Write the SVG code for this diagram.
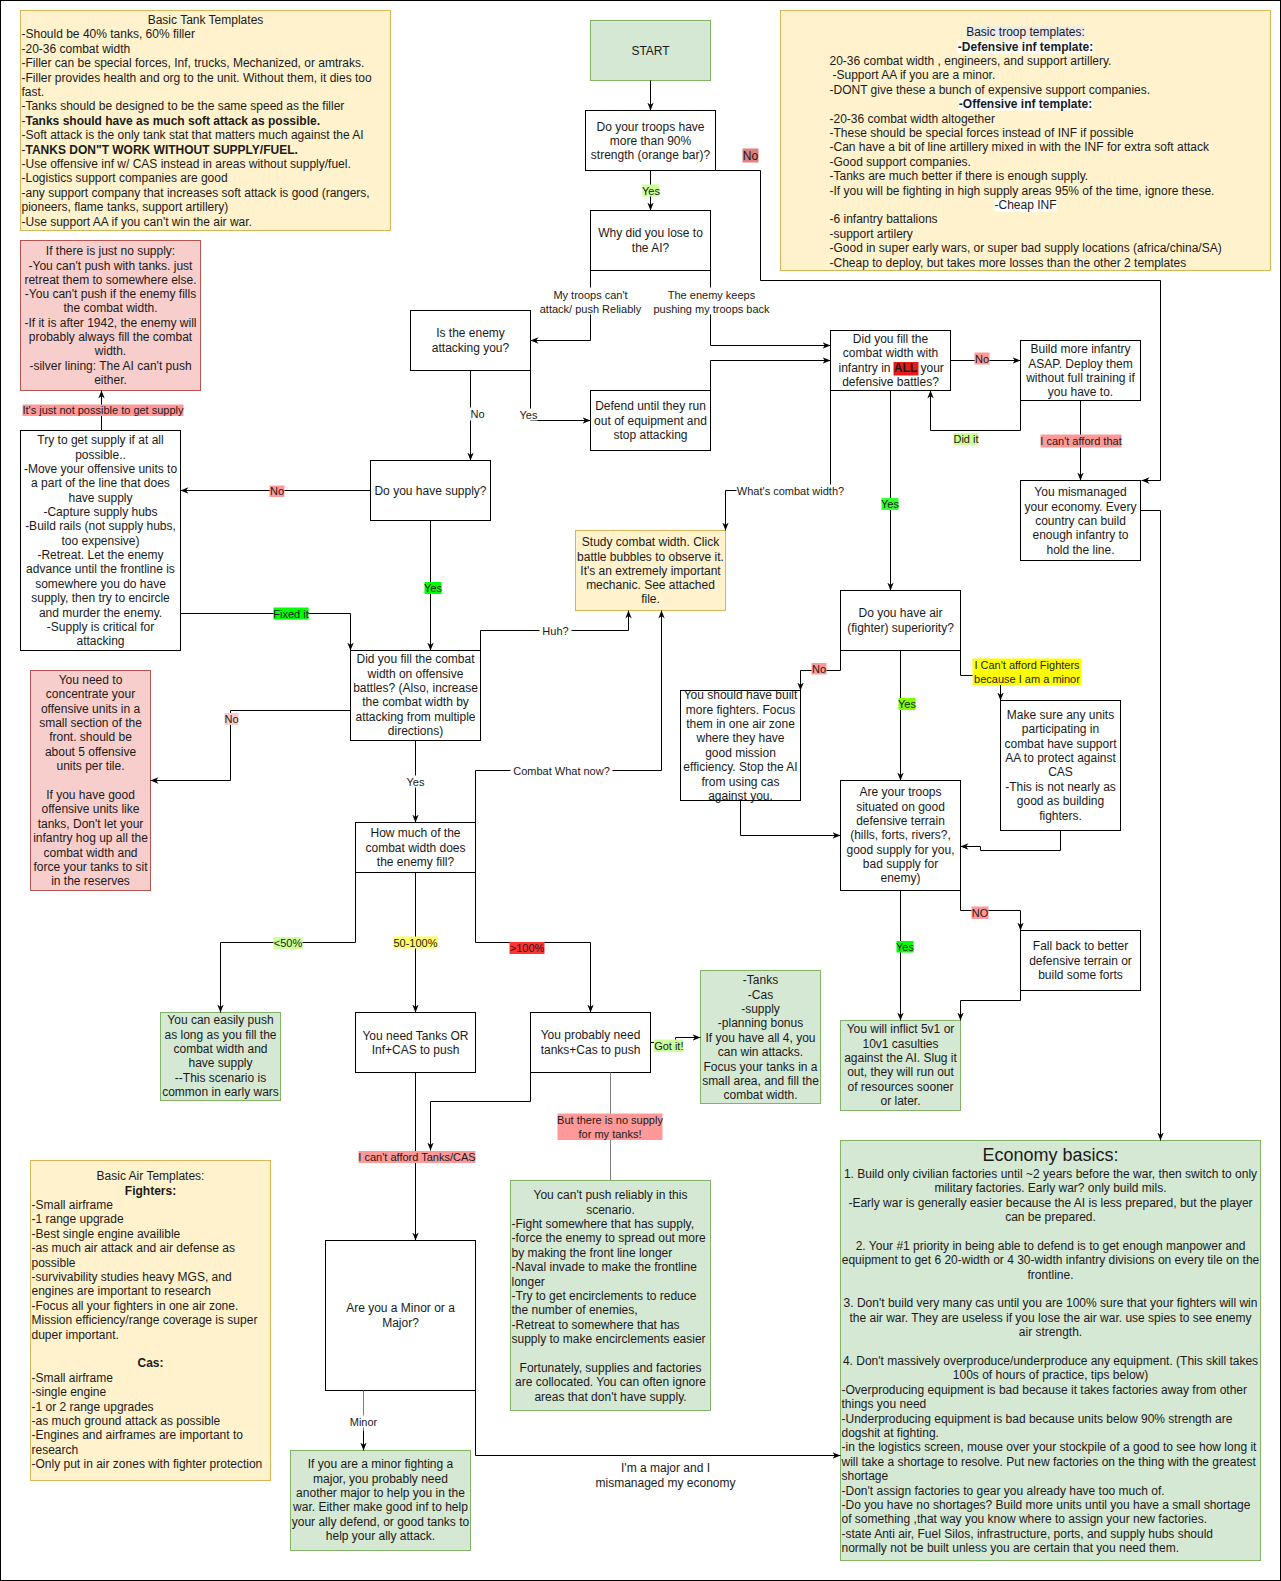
<svg xmlns="http://www.w3.org/2000/svg" width="1281" height="1581" viewBox="0 0 1281 1581">
<style>
text{font-family:"Liberation Sans",Arial,Helvetica,sans-serif;font-size:12px;fill:#1a1a1a}
.c{text-anchor:middle}
.l{font-size:11px}
.b{font-weight:bold}
.n{fill:#fff;stroke:#000;stroke-width:1}
.g{fill:#d5e8d4;stroke:#82b366;stroke-width:1}
.y{fill:#fff2cc;stroke:#d6b656;stroke-width:1}
.r{fill:#f8cecc;stroke:#b85450;stroke-width:1}
.e{fill:none;stroke:#000;stroke-width:1}
.eg{fill:none;stroke:#808080;stroke-width:1}
.w{fill:#fff}
</style>
<defs>
<marker id="a" viewBox="0 0 10 8" refX="10" refY="4" markerWidth="8" markerHeight="7" markerUnits="userSpaceOnUse" orient="auto"><path d="M0,0 L10,4 L0,8 L3,4 Z" fill="#000"/></marker>
</defs>
<rect x="0" y="0" width="1281" height="1581" fill="#fff"/>
<g transform="translate(0.5,0.5)">
<rect x="0" y="0" width="1280" height="1580" fill="none" stroke="#000"/>

<g id="tank-templates">
<rect class="y" x="20" y="10" width="370" height="220"/>
<text x="21" y="23.5"><tspan class="c" x="205">Basic Tank Templates</tspan><tspan x="21" dy="14.4">-Should be 40% tanks, 60% filler</tspan><tspan x="21" dy="14.4">-20-36 combat width</tspan><tspan x="21" dy="14.4">-Filler can be special forces, Inf, trucks, Mechanized, or amtraks.</tspan><tspan x="21" dy="14.4">-Filler provides health and org to the unit. Without them, it dies too</tspan><tspan x="21" dy="14.4">fast.</tspan><tspan x="21" dy="14.4">-Tanks should be designed to be the same speed as the filler</tspan><tspan x="21" dy="14.4">-<tspan class="b">Tanks should have as much soft attack as possible.</tspan></tspan><tspan x="21" dy="14.4">-Soft attack is the only tank stat that matters much against the AI</tspan><tspan x="21" dy="14.4">-<tspan class="b">TANKS DON"T WORK WITHOUT SUPPLY/FUEL.</tspan></tspan><tspan x="21" dy="14.4">-Use offensive inf w/ CAS instead in areas without supply/fuel.</tspan><tspan x="21" dy="14.4">-Logistics support companies are good</tspan><tspan x="21" dy="14.4">-any support company that increases soft attack is good (rangers,</tspan><tspan x="21" dy="14.4">pioneers, flame tanks, support artillery)</tspan><tspan x="21" dy="14.4">-Use support AA if you can't win the air war.</tspan></text>
</g>

<g id="troop-templates">
<rect class="y" x="780" y="10" width="490" height="260"/>
<rect x="966" y="26" width="118" height="12" fill="#ebebeb"/>
<rect x="957" y="40.5" width="136" height="12.5" fill="#fff"/>
<rect x="958" y="97.5" width="134" height="12.5" fill="#fff"/>
<rect x="994" y="198.5" width="62" height="12.5" fill="#fff"/>
<text x="829" y="35.7"><tspan class="c" x="1025">Basic troop templates:</tspan><tspan class="c b" x="1025" dy="14.4">-Defensive inf template:</tspan><tspan x="829" dy="14.4">20-36 combat width , engineers, and support artillery.</tspan><tspan x="832" dy="14.4">-Support AA if you are a minor.</tspan><tspan x="829" dy="14.4">-DONT give these a bunch of expensive support companies.</tspan><tspan class="c b" x="1025" dy="14.4">-Offensive inf template:</tspan><tspan x="829" dy="14.4">-20-36 combat width altogether</tspan><tspan x="829" dy="14.4">-These should be special forces instead of INF if possible</tspan><tspan x="829" dy="14.4">-Can have a bit of line artillery mixed in with the INF for extra soft attack</tspan><tspan x="829" dy="14.4">-Good support companies.</tspan><tspan x="829" dy="14.4">-Tanks are much better if there is enough supply.</tspan><tspan x="829" dy="14.4">-If you will be fighting in high supply areas 95% of the time, ignore these.</tspan><tspan class="c" x="1025" dy="14.4">-Cheap INF</tspan><tspan x="829" dy="14.4">-6 infantry battalions</tspan><tspan x="829" dy="14.4">-support artilery</tspan><tspan x="829" dy="14.4">-Good in super early wars, or super bad supply locations (africa/china/SA)</tspan><tspan x="829" dy="14.4">-Cheap to deploy, but takes more losses than the other 2 templates</tspan></text>
</g>

<g id="start">
<rect class="g" x="590" y="20" width="120" height="60"/>
<text class="c" x="650" y="54">START</text>
</g>

<g id="q-strength">
<rect class="n" x="585" y="110" width="130" height="60"/>
<text class="c" x="650" y="130"><tspan x="650">Do your troops have</tspan><tspan x="650" dy="14.4">more than 90%</tspan><tspan x="650" dy="14.4">strength (orange bar)?</tspan></text>
</g>

<g id="q-why">
<rect class="n" x="590" y="210" width="120" height="60"/>
<text class="c" x="650" y="236.7"><tspan x="650">Why did you lose to</tspan><tspan x="650" dy="14.4">the AI?</tspan></text>
</g>

<g id="q-attacking">
<rect class="n" x="410" y="310" width="120" height="60"/>
<text class="c" x="470" y="336.7"><tspan x="470">Is the enemy</tspan><tspan x="470" dy="14.4">attacking you?</tspan></text>
</g>

<g id="defend">
<rect class="n" x="590" y="390" width="120" height="60"/>
<text class="c" x="650" y="409.7"><tspan x="650">Defend until they run</tspan><tspan x="650" dy="14.4">out of equipment and</tspan><tspan x="650" dy="14.4">stop attacking</tspan></text>
</g>

<g id="q-def-width">
<rect class="n" x="830" y="330" width="120" height="60"/>
<rect x="893" y="361.5" width="25" height="13.5" fill="#e31b1b"/>
<text class="c" x="890" y="342.3"><tspan x="890">Did you fill the</tspan><tspan x="890" dy="14.4">combat width with</tspan></text>
<text x="838" y="371.1">infantry in <tspan class="b">ALL</tspan> your</text>
<text class="c" x="890" y="385.5">defensive battles?</text>
</g>

<g id="build-inf">
<rect class="n" x="1020" y="340" width="120" height="60"/>
<text class="c" x="1080" y="352.7"><tspan x="1080">Build more infantry</tspan><tspan x="1080" dy="14.4">ASAP. Deploy them</tspan><tspan x="1080" dy="14.4">without full training if</tspan><tspan x="1080" dy="14.4">you have to.</tspan></text>
</g>

<g id="mismanaged">
<rect class="n" x="1020" y="480" width="120" height="80"/>
<text class="c" x="1080" y="495.7"><tspan x="1080">You mismanaged</tspan><tspan x="1080" dy="14.4">your economy. Every</tspan><tspan x="1080" dy="14.4">country can build</tspan><tspan x="1080" dy="14.4">enough infantry to</tspan><tspan x="1080" dy="14.4">hold the line.</tspan></text>
</g>

<g id="no-supply">
<rect class="r" x="20" y="240" width="180" height="150"/>
<text class="c" x="110" y="254.7"><tspan x="110">If there is just no supply:</tspan><tspan x="110" dy="14.3">-You can't push with tanks. just</tspan><tspan x="110" dy="14.3">retreat them to somewhere else.</tspan><tspan x="110" dy="14.3">-You can't push if the enemy fills</tspan><tspan x="110" dy="14.3">the combat width.</tspan><tspan x="110" dy="14.3">-If it is after 1942, the enemy will</tspan><tspan x="110" dy="14.3">probably always fill the combat</tspan><tspan x="110" dy="14.3">width.</tspan><tspan x="110" dy="14.3">-silver lining: The AI can't push</tspan><tspan x="110" dy="14.3">either.</tspan></text>
</g>

<g id="try-supply">
<rect class="n" x="20" y="430" width="160" height="220"/>
<text class="c" x="100" y="443.7"><tspan x="100">Try to get supply if at all</tspan><tspan x="100" dy="14.36">possible..</tspan><tspan x="100" dy="14.36">-Move your offensive units to</tspan><tspan x="100" dy="14.36">a part of the line that does</tspan><tspan x="100" dy="14.36">have supply</tspan><tspan x="100" dy="14.36">-Capture supply hubs</tspan><tspan x="100" dy="14.36">-Build rails (not supply hubs,</tspan><tspan x="100" dy="14.36">too expensive)</tspan><tspan x="100" dy="14.36">-Retreat. Let the enemy</tspan><tspan x="100" dy="14.36">advance until the frontline is</tspan><tspan x="100" dy="14.36">somewhere you do have</tspan><tspan x="100" dy="14.36">supply, then try to encircle</tspan><tspan x="100" dy="14.36">and murder the enemy.</tspan><tspan x="100" dy="14.36">-Supply is critical for</tspan><tspan x="100" dy="14.36">attacking</tspan></text>
</g>

<g id="q-supply">
<rect class="n" x="370" y="460" width="120" height="60"/>
<text class="c" x="430" y="494">Do you have supply?</text>
</g>

<g id="study-width">
<rect class="y" x="575" y="530" width="150" height="80"/>
<text class="c" x="650" y="545.7"><tspan x="650">Study combat width. Click</tspan><tspan x="650" dy="14.3">battle bubbles to observe it.</tspan><tspan x="650" dy="14.3">It's an extremely important</tspan><tspan x="650" dy="14.3">mechanic. See attached</tspan><tspan x="650" dy="14.3">file.</tspan></text>
</g>

<g id="q-off-width">
<rect class="n" x="350" y="650" width="130" height="90"/>
<text class="c" x="415" y="662.7"><tspan x="415">Did you fill the combat</tspan><tspan x="415" dy="14.4">width on offensive</tspan><tspan x="415" dy="14.4">battles? (Also, increase</tspan><tspan x="415" dy="14.4">the combat width by</tspan><tspan x="415" dy="14.4">attacking from multiple</tspan><tspan x="415" dy="14.4">directions)</tspan></text>
</g>

<g id="concentrate">
<rect class="r" x="30" y="670" width="120" height="220"/>
<text class="c" x="90" y="683.3"><tspan x="90">You need to</tspan><tspan x="90" dy="14.4">concentrate your</tspan><tspan x="90" dy="14.4">offensive units in a</tspan><tspan x="90" dy="14.4">small section of the</tspan><tspan x="90" dy="14.4">front.  should be</tspan><tspan x="90" dy="14.4">about 5 offensive</tspan><tspan x="90" dy="14.4">units per tile.</tspan><tspan x="90" dy="28.8">If you have good</tspan><tspan x="90" dy="14.4">offensive units like</tspan><tspan x="90" dy="14.4">tanks, Don't let your</tspan><tspan x="90" dy="14.4">infantry hog up all the</tspan><tspan x="90" dy="14.4">combat width and</tspan><tspan x="90" dy="14.4">force your tanks to sit</tspan><tspan x="90" dy="14.4">in the reserves</tspan></text>
</g>

<g id="q-air">
<rect class="n" x="840" y="590" width="120" height="60"/>
<text class="c" x="900" y="616.7"><tspan x="900">Do you have air</tspan><tspan x="900" dy="15">(fighter) superiority?</tspan></text>
</g>

<g id="build-fighters">
<rect class="n" x="680" y="690" width="120" height="110"/>
<text class="c" x="740" y="698.6"><tspan x="740">You should have built</tspan><tspan x="740" dy="14.4">more fighters. Focus</tspan><tspan x="740" dy="14.4">them in one air zone</tspan><tspan x="740" dy="14.4">where they have</tspan><tspan x="740" dy="14.4">good mission</tspan><tspan x="740" dy="14.4">efficiency. Stop the AI</tspan><tspan x="740" dy="14.4">from using cas</tspan><tspan x="740" dy="14.4">against you.</tspan></text>
</g>

<g id="support-aa">
<rect class="n" x="1000" y="700" width="120" height="130"/>
<text class="c" x="1060" y="718.3"><tspan x="1060">Make sure any units</tspan><tspan x="1060" dy="14.4">participating in</tspan><tspan x="1060" dy="14.4">combat have support</tspan><tspan x="1060" dy="14.4">AA to protect against</tspan><tspan x="1060" dy="14.4">CAS</tspan><tspan x="1060" dy="14.4">-This is not nearly as</tspan><tspan x="1060" dy="14.4">good as building</tspan><tspan x="1060" dy="14.4">fighters.</tspan></text>
</g>

<g id="q-terrain">
<rect class="n" x="840" y="780" width="120" height="110"/>
<text class="c" x="900" y="795.7"><tspan x="900">Are your troops</tspan><tspan x="900" dy="14.33">situated on good</tspan><tspan x="900" dy="14.33">defensive terrain</tspan><tspan x="900" dy="14.33">(hills, forts, rivers?,</tspan><tspan x="900" dy="14.33">good supply for you,</tspan><tspan x="900" dy="14.33">bad supply for</tspan><tspan x="900" dy="14.33">enemy)</tspan></text>
</g>

<g id="q-how-much">
<rect class="n" x="355" y="822" width="120" height="50"/>
<text class="c" x="415" y="836.7"><tspan x="415">How much of the</tspan><tspan x="415" dy="14.4">combat width does</tspan><tspan x="415" dy="14.4">the enemy fill?</tspan></text>
</g>

<g id="fall-back">
<rect class="n" x="1020" y="930" width="120" height="60"/>
<text class="c" x="1080" y="949.7"><tspan x="1080">Fall back to better</tspan><tspan x="1080" dy="14.4">defensive terrain or</tspan><tspan x="1080" dy="14.4">build some forts</tspan></text>
</g>

<g id="tanks-cas">
<rect class="g" x="700" y="970" width="120" height="133"/>
<text class="c" x="760" y="983.7"><tspan x="760">-Tanks</tspan><tspan x="760" dy="14.4">-Cas</tspan><tspan x="760" dy="14.4">-supply</tspan><tspan x="760" dy="14.4">-planning bonus</tspan><tspan x="760" dy="14.4">If you have all 4, you</tspan><tspan x="760" dy="14.4">can win attacks.</tspan><tspan x="760" dy="14.4">Focus your tanks in a</tspan><tspan x="760" dy="14.4">small area, and fill the</tspan><tspan x="760" dy="14.4">combat width.</tspan></text>
</g>

<g id="easy-push">
<rect class="g" x="160" y="1012" width="120" height="88"/>
<text class="c" x="220" y="1023.7"><tspan x="220">You can easily push</tspan><tspan x="220" dy="14.4">as long as you fill the</tspan><tspan x="220" dy="14.4">combat width and</tspan><tspan x="220" dy="14.4">have supply</tspan><tspan x="220" dy="14.4">--This scenario is</tspan><tspan x="220" dy="14.4">common in early wars</tspan></text>
</g>

<g id="need-tanks">
<rect class="n" x="355" y="1012" width="120" height="60"/>
<text class="c" x="415" y="1039"><tspan x="415">You need Tanks OR</tspan><tspan x="415" dy="14.4">Inf+CAS to push</tspan></text>
</g>

<g id="probably-need">
<rect class="n" x="530" y="1012" width="120" height="60"/>
<text class="c" x="590" y="1038.7"><tspan x="590">You probably need</tspan><tspan x="590" dy="14.4">tanks+Cas to push</tspan></text>
</g>

<g id="inflict">
<rect class="g" x="840" y="1020" width="120" height="90"/>
<text class="c" x="900" y="1032.7"><tspan x="900">You will inflict 5v1 or</tspan><tspan x="900" dy="14.4">10v1  casulties</tspan><tspan x="900" dy="14.4">against the AI. Slug it</tspan><tspan x="900" dy="14.4">out, they will run out</tspan><tspan x="900" dy="14.4">of resources sooner</tspan><tspan x="900" dy="14.4">or later.</tspan></text>
</g>

<g id="air-templates">
<rect class="y" x="30" y="1160" width="240" height="320"/>
<text x="31" y="1179.7"><tspan class="c" x="150">Basic Air Templates:</tspan><tspan class="c b" x="150" dy="14.4">Fighters:</tspan><tspan x="31" dy="14.4">-Small airframe</tspan><tspan x="31" dy="14.4">-1 range upgrade</tspan><tspan x="31" dy="14.4">-Best single engine availible</tspan><tspan x="31" dy="14.4">-as much air attack and air defense as</tspan><tspan x="31" dy="14.4">possible</tspan><tspan x="31" dy="14.4">-survivability studies heavy MGS, and</tspan><tspan x="31" dy="14.4">engines are important to research</tspan><tspan x="31" dy="14.4">-Focus all your fighters in one air zone.</tspan><tspan x="31" dy="14.4">Mission efficiency/range coverage is super</tspan><tspan x="31" dy="14.4">duper important.</tspan><tspan class="c b" x="150" dy="28.8">Cas:</tspan><tspan x="31" dy="14.4">-Small airframe</tspan><tspan x="31" dy="14.4">-single engine</tspan><tspan x="31" dy="14.4">-1 or 2 range upgrades</tspan><tspan x="31" dy="14.4">-as much ground attack as possible</tspan><tspan x="31" dy="14.4">-Engines and airframes are important to</tspan><tspan x="31" dy="14.4">research</tspan><tspan x="31" dy="14.4">-Only put in air zones with fighter protection</tspan></text>
</g>

<g id="q-minor-major">
<rect class="n" x="325" y="1240" width="150" height="150"/>
<text class="c" x="400" y="1311.7"><tspan x="400">Are you a Minor or a</tspan><tspan x="400" dy="14.4">Major?</tspan></text>
</g>

<g id="cant-push">
<rect class="g" x="510" y="1180" width="200" height="230"/>
<text x="511" y="1198.7"><tspan class="c" x="610">You can't push reliably in this</tspan><tspan class="c" x="610" dy="14.4">scenario.</tspan><tspan x="511" dy="14.4">-Fight somewhere that has supply,</tspan><tspan x="511" dy="14.4">-force the enemy to spread out more</tspan><tspan x="511" dy="14.4">by making the front line longer</tspan><tspan x="511" dy="14.4">-Naval invade to make the frontline</tspan><tspan x="511" dy="14.4">longer</tspan><tspan x="511" dy="14.4">-Try to get encirclements to reduce</tspan><tspan x="511" dy="14.4">the number of enemies,</tspan><tspan x="511" dy="14.4">-Retreat to somewhere that has</tspan><tspan x="511" dy="14.4">supply to make encirclements easier</tspan><tspan class="c" x="610" dy="28.8">Fortunately, supplies and factories</tspan><tspan class="c" x="610" dy="14.4">are collocated. You can often ignore</tspan><tspan class="c" x="610" dy="14.4">areas that don't have supply.</tspan></text>
</g>

<g id="minor-help">
<rect class="g" x="290" y="1450" width="180" height="100"/>
<text class="c" x="380" y="1467.7"><tspan x="380">If you are a minor fighting a</tspan><tspan x="380" dy="14.4">major, you probably need</tspan><tspan x="380" dy="14.4">another major to help you in the</tspan><tspan x="380" dy="14.4">war. Either make good inf to help</tspan><tspan x="380" dy="14.4">your ally defend, or good tanks to</tspan><tspan x="380" dy="14.4">help your ally attack.</tspan></text>
</g>

<g id="economy">
<rect class="g" x="840" y="1140" width="420" height="420"/>
<text class="c" x="1050" y="1160" style="font-size:18px">Economy basics:</text>
<text x="841" y="1177.3"><tspan class="c" x="1050">1. Build only civilian factories until ~2 years before the war, then switch to only</tspan><tspan class="c" x="1050" dy="14.4">military factories. Early war? only build mils.</tspan><tspan class="c" x="1050" dy="14.4">-Early war is generally easier because the AI is less prepared, but the player</tspan><tspan class="c" x="1050" dy="14.4">can be prepared.</tspan><tspan class="c" x="1050" dy="28.8">2. Your #1 priority in being able to defend is to get enough manpower and</tspan><tspan class="c" x="1050" dy="14.4">equipment to get 6 20-width or 4 30-width infantry divisions on every tile on the</tspan><tspan class="c" x="1050" dy="14.4">frontline.</tspan><tspan class="c" x="1050" dy="28.8">3. Don't build very many cas until you are 100% sure that your fighters will win</tspan><tspan class="c" x="1050" dy="14.4">the air war. They are useless if you lose the air war. use spies to see enemy</tspan><tspan class="c" x="1050" dy="14.4">air strength.</tspan><tspan class="c" x="1050" dy="28.8">4. Don't massively overproduce/underproduce any equipment. (This skill takes</tspan><tspan class="c" x="1050" dy="14.4">100s of hours of practice, tips below)</tspan><tspan x="841" dy="14.4">-Overproducing equipment is bad because it takes factories away from other</tspan><tspan x="841" dy="14.4">things you need</tspan><tspan x="841" dy="14.4">-Underproducing equipment is bad because units below 90% strength are</tspan><tspan x="841" dy="14.4">dogshit at fighting.</tspan><tspan x="841" dy="14.4">-in the logistics screen, mouse over your stockpile of a good to see how long it</tspan><tspan x="841" dy="14.4">will take a shortage to resolve. Put new factories on the thing with the greatest</tspan><tspan x="841" dy="14.4">shortage</tspan><tspan x="841" dy="14.4">-Don't assign factories to gear you already have too much of.</tspan><tspan x="841" dy="14.4">-Do you have no shortages? Build more units until you have a small shortage</tspan><tspan x="841" dy="14.4">of something ,that way you know where to assign your new factories.</tspan><tspan x="841" dy="14.4">-state Anti air, Fuel Silos, infrastructure, ports, and supply hubs should</tspan><tspan x="841" dy="14.4">normally not be built unless you are certain that you need them.</tspan></text>
</g>

<g id="connectors">
<path class="e" marker-end="url(#a)" d="M650,80 V110"/>
<path class="e" marker-end="url(#a)" d="M650,170 V210"/>
<path class="e" marker-end="url(#a)" d="M715,170 H760 V280 H1160 V480 H1141"/>
<path class="e" marker-end="url(#a)" d="M590,270 V340 H530"/>
<path class="e" marker-end="url(#a)" d="M710,270 V345 H830"/>
<path class="e" marker-end="url(#a)" d="M710,390 V360 H830"/>
<path class="e" marker-end="url(#a)" d="M470,370 V460"/>
<path class="e" marker-end="url(#a)" d="M530,370 V420 H590"/>
<path class="e" marker-end="url(#a)" d="M950,360 H1020"/>
<path class="e" marker-end="url(#a)" d="M1020,400 V430 H930 V390"/>
<path class="e" marker-end="url(#a)" d="M1080,400 V480"/>
<path class="e" marker-end="url(#a)" d="M1140,510 H1160 V1140"/>
<path class="e" marker-end="url(#a)" d="M830,390 V490 H725 V530"/>
<path class="e" marker-end="url(#a)" d="M890,390 V590"/>
<path class="e" marker-end="url(#a)" d="M370,490 H180"/>
<path class="e" marker-end="url(#a)" d="M101,430 V390"/>
<path class="e" marker-end="url(#a)" d="M180,613 H350 V650"/>
<path class="e" marker-end="url(#a)" d="M430,520 V650"/>
<path class="e" marker-end="url(#a)" d="M480,650 V630 H628 V610"/>
<path class="e" marker-end="url(#a)" d="M350,710 H230 V780 H150"/>
<path class="e" marker-end="url(#a)" d="M415,740 V822"/>
<path class="e" marker-end="url(#a)" d="M840,650 V670 H800 V690"/>
<path class="e" marker-end="url(#a)" d="M960,650 V675 H1000 V700"/>
<path class="e" marker-end="url(#a)" d="M900,650 V780"/>
<path class="e" marker-end="url(#a)" d="M740,800 V835 H840"/>
<path class="e" marker-end="url(#a)" d="M1060,830 V850 H980 V846 H960"/>
<path class="e" marker-end="url(#a)" d="M475,822 V770 H661 V610"/>
<path class="e" marker-end="url(#a)" d="M355,872 V942 H220 V1012"/>
<path class="e" marker-end="url(#a)" d="M415,872 V1012"/>
<path class="e" marker-end="url(#a)" d="M475,872 V942 H590 V1012"/>
<path class="e" marker-end="url(#a)" d="M900,890 V1020"/>
<path class="e" marker-end="url(#a)" d="M960,890 V910 H1020 V930"/>
<path class="e" marker-end="url(#a)" d="M1020,990 V1000 H960 V1020"/>
<path class="e" marker-end="url(#a)" d="M650,1042 H675 V1037 H700"/>
<path class="eg" d="M610,1072 V1180"/>
<path class="e" marker-end="url(#a)" d="M415,1072 V1240"/>
<path class="e" marker-end="url(#a)" d="M530,1072 V1101 H430 V1150"/>
<path class="eg" d="M363,1390 V1430"/>
<path class="e" marker-end="url(#a)" d="M363,1430 V1450"/>
<path class="e" marker-end="url(#a)" d="M475,1390 V1455 H840"/>

<g id="labels">
<rect x="642" y="184" width="17" height="12" fill="#ccff99"/>
<text class="c l" x="650.5" y="194">Yes</text>
<rect x="742" y="148" width="16" height="14" fill="#e08080"/>
<text class="c" x="750" y="159.5">No</text>
<rect x="548" y="287" width="84" height="27" class="w"/>
<text class="c l" x="590" y="298.3"><tspan x="590">My troops can't</tspan><tspan x="590" dy="14">attack/ push Reliably</tspan></text>
<rect x="651" y="287" width="120" height="27" class="w"/>
<text class="c l" x="711" y="298.3"><tspan x="711">The enemy keeps</tspan><tspan x="711" dy="14">pushing my troops back</tspan></text>
<rect x="469" y="407" width="16" height="13" class="w"/>
<text class="c l" x="477" y="417.5">No</text>
<rect x="519" y="408" width="18" height="12" class="w"/>
<text class="c l" x="528" y="418">Yes</text>
<rect x="974" y="352" width="15" height="12" fill="#ff9999"/>
<text class="c l" x="981.5" y="362">No</text>
<rect x="953" y="432.5" width="25" height="12" fill="#ccff99"/>
<text class="c l" x="965.5" y="442.5">Did it</text>
<rect x="1040" y="434" width="81" height="13" fill="#ff9999"/>
<text class="c l" x="1080.5" y="444.5">I can't afford that</text>
<rect x="736" y="484" width="108" height="13" class="w"/>
<text class="c l" x="790" y="494">What's combat width?</text>
<rect x="881" y="497.5" width="17" height="12" fill="#33ff33"/>
<text class="c l" x="889.5" y="507.5">Yes</text>
<rect x="22" y="404" width="161" height="11.5" fill="#ff9999"/>
<text class="c l" x="102.5" y="413.5">It's just not possible to get supply</text>
<rect x="269" y="485" width="15" height="11.5" fill="#ff9999"/>
<text class="c l" x="276.5" y="494.5">No</text>
<rect x="424" y="581.5" width="17" height="12" fill="#00ff00"/>
<text class="c l" x="432.5" y="591.5">Yes</text>
<rect x="273" y="607" width="35" height="12" fill="#00ff00"/>
<text class="c l" x="290.5" y="617">Fixed it</text>
<rect x="539" y="624" width="32" height="12" class="w"/>
<text class="c l" x="555" y="634">Huh?</text>
<rect x="224" y="712.5" width="14" height="12" fill="#f8cecc"/>
<text class="c l" x="231" y="722.5">No</text>
<rect x="811" y="662.5" width="15" height="11.5" fill="#ff9999"/>
<text class="c l" x="818.5" y="672">No</text>
<rect x="972" y="658" width="109" height="26.5" fill="#ffff00"/>
<text class="c l" x="1026.5" y="668.3"><tspan x="1026.5">I Can't afford Fighters</tspan><tspan x="1026.5" dy="14">because I am a minor</tspan></text>
<rect x="898" y="697.5" width="17" height="12" fill="#80ff00"/>
<text class="c l" x="906.5" y="707.3">Yes</text>
<rect x="510" y="764" width="102" height="12" class="w"/>
<text class="c l" x="561" y="774">Combat What now?</text>
<rect x="405" y="775" width="20" height="12" class="w"/>
<text class="c l" x="415" y="785">Yes</text>
<rect x="273" y="936.5" width="29" height="12" fill="#ccff99"/>
<text class="c l" x="287.5" y="946.5">&lt;50%</text>
<rect x="393" y="936" width="44" height="12" fill="#ffff66"/>
<text class="c l" x="415" y="946">50-100%</text>
<rect x="509" y="941.5" width="35" height="12" fill="#ff3333"/>
<text class="c l" x="526.5" y="951.5">&gt;100%</text>
<rect x="971" y="906" width="17" height="12.5" fill="#ff9999"/>
<text class="c l" x="979.5" y="916.5">NO</text>
<rect x="896" y="940.5" width="17" height="11.5" fill="#00ff00"/>
<text class="c l" x="904.5" y="950">Yes</text>
<rect x="653.5" y="1039" width="29.5" height="12.5" fill="#ccff99"/>
<text class="c l" x="668.3" y="1049">Got it!</text>
<rect x="557" y="1113" width="105" height="26.5" fill="#ff9999"/>
<text class="c l" x="609.5" y="1123"><tspan x="609.5">But there is no supply</tspan><tspan x="609.5" dy="14">for my tanks!</tspan></text>
<rect x="358" y="1150.5" width="117" height="12" fill="#ff9999"/>
<text class="c l" x="416.5" y="1160.5">I can't afford Tanks/CAS</text>
<rect x="347" y="1415" width="32" height="12" class="w"/>
<text class="c l" x="363" y="1425">Minor</text>
<text class="c" x="665" y="1471.7"><tspan x="665">I'm a major and I</tspan><tspan x="665" dy="15">mismanaged my economy</tspan></text>
</g>
</g>
</g>
</svg>
